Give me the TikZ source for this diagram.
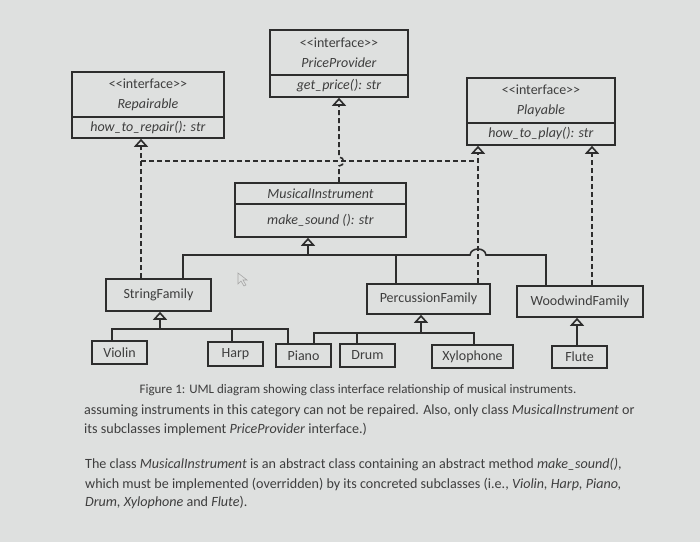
\documentclass[tikz,border=0pt]{standalone}
\usepackage{fontspec}
\setmainfont{Carlito}
\usetikzlibrary{arrows.meta}
\definecolor{bg}{RGB}{222,224,223}
\definecolor{ink}{RGB}{45,45,45}
\definecolor{txt}{RGB}{62,62,62}
\begin{document}
\begin{tikzpicture}[x=1pt,y=-1pt,
  box/.style={draw=ink, line width=1.6pt, fill=bg, inner sep=0pt, text=txt, font=\fontsize{14}{20}\selectfont, align=center},
  gen/.style={draw=ink, line width=1.6pt, -{Triangle[open,length=8pt,width=14pt,fill=bg]}},
  impl/.style={gen, dash pattern=on 5pt off 3pt},
  conn/.style={draw=ink, line width=1.6pt},
  dconn/.style={conn, dash pattern=on 5pt off 3pt},
  para/.style={text=txt, anchor=west, inner sep=0pt, font=\fontsize{14.1}{16}\selectfont},
]
\fill[bg] (0,0) rectangle (700,542);
\useasboundingbox (0,0) rectangle (700,542);

% interfaces
\node[box, minimum width=138pt, minimum height=45pt] (pp) at (339,52.5) {<\kern0pt<interface>\kern0pt>\\\textit{PriceProvider}};
\node[box, minimum width=138pt, minimum height=22pt] (ppm) at (339,86) {\textit{get\_price(): str}};
\node[box, minimum width=152pt, minimum height=45pt] (rp) at (148,94.5) {<\kern0pt<interface>\kern0pt>\\\textit{Repairable}};
\node[box, minimum width=152pt, minimum height=21pt] (rm) at (148,127.5) {\textit{how\_to\_repair(): str}};
\node[box, minimum width=148pt, minimum height=45pt] (pl) at (541,100.5) {<\kern0pt<interface>\kern0pt>\\\textit{Playable}};
\node[box, minimum width=148pt, minimum height=22pt] (plm) at (541,134) {\textit{how\_to\_play(): str}};
% abstract class
\node[box, minimum width=171pt, minimum height=21pt] (mi) at (320.5,193.5) {\textit{MusicalInstrument}};
\node[box, minimum width=171pt, minimum height=33pt] (mim) at (320.5,220.5) {\textit{make\_sound (): str}};
% families
\node[box, minimum width=105pt, minimum height=32pt] (sf) at (158.5,295) {StringFamily};
\node[box, minimum width=123pt, minimum height=30pt] (pf) at (428.5,299) {PercussionFamily};
\node[box, minimum width=126pt, minimum height=31pt] (wf) at (580,301.5) {WoodwindFamily};
% concrete
\node[box, minimum width=55pt, minimum height=23pt] (vi) at (119.5,352.5) {Violin};
\node[box, minimum width=55pt, minimum height=24pt] (ha) at (235.5,354) {Harp};
\node[box, minimum width=55pt, minimum height=23pt] (pi) at (303.5,355.5) {Piano};
\node[box, minimum width=55pt, minimum height=23pt] (dr) at (367.5,355.5) {Drum};
\node[box, minimum width=81pt, minimum height=23pt] (xy) at (472.5,356.5) {Xylophone};
\node[box, minimum width=55pt, minimum height=22pt] (fl) at (579.5,357) {Flute};

% helper coordinates
\coordinate (ra) at (141,0);
\coordinate (pa) at (478,0);
\coordinate (wa) at (592,0);
\coordinate (hy) at (0,161);
\coordinate (b1) at (0,255);
\coordinate (tx) at (308,0);
\coordinate (sx) at (183,0);
\coordinate (px) at (396,0);
\coordinate (wx) at (546,0);
\coordinate (b2) at (0,329);
\coordinate (stx) at (160,0);
\coordinate (vx) at (112,0);
\coordinate (hx) at (232,0);
\coordinate (pix) at (288,0);
\coordinate (b3) at (0,333);
\coordinate (ptx) at (421,0);
\coordinate (pjx) at (314,0);
\coordinate (dx) at (357,0);
\coordinate (xx) at (474,0);

% realizations (dashed)
\draw[impl] (mi.north -| ppm.south) -- (339,166) .. controls (345,166) and (345,157) .. (339,157) -- (ppm.south);
\draw[impl] (sf.north -| ra) -- (rm.south -| ra);
\draw[dconn] (ra |- hy) -- (pa |- hy);
\draw[impl] (pf.north -| pa) -- (plm.south -| pa);
\draw[impl] (wf.north -| wa) -- (plm.south -| wa);

% generalization to MusicalInstrument
\draw[gen] (tx |- b1) -- (mim.south -| tx);
\draw[conn] (sf.north -| sx) -- (sx |- b1) -- (470,255) .. controls (471,247) and (485,247) .. (486,255) -- (wx |- b1) -- (wf.north -| wx);
\draw[conn] (pf.north -| px) -- (px |- b1);

% string family
\draw[gen] (stx |- b2) -- (sf.south -| stx);
\draw[conn] (vi.north -| vx) -- (vx |- b2) -- (pix |- b2) -- (pi.north -| pix);
\draw[conn] (ha.north -| hx) -- (hx |- b2);

% percussion family
\draw[gen] (ptx |- b3) -- (pf.south -| ptx);
\draw[conn] (pi.north -| pjx) -- (pjx |- b3) -- (xx |- b3) -- (xy.north -| xx);
\draw[conn] (dr.north -| dx) -- (dx |- b3);

% woodwind family
\draw[gen] (fl.north -| 577,0) -- (wf.south -| 577,0);

% mouse cursor
\draw[gray!70, line width=0.6pt, fill=bg] (238,273) -- (238,284) -- (241,281) -- (244,286) -- (246,285) -- (243,280) -- (247,280) -- cycle;

% text
\node[para, anchor=center, font=\fontsize{13}{15}\selectfont] (cap) at (358,390) {Figure 1: UML diagram showing class interface relationship of musical instruments.};
\node[para] (l1) at (84,411) {assuming instruments in this category can not be repaired. Also, only class \textit{MusicalInstrument} or};
\node[para] (l2) at (84,429) {its subclasses implement \textit{PriceProvider} interface.)};
\node[para] (l3) at (85,465) {The class \textit{MusicalInstrument} is an abstract class containing an abstract method \textit{make\_sound()},};
\node[para] (l4) at (85,484) {which must be implemented (overridden) by its concreted subclasses (i.e., \textit{Violin, Harp, Piano,}};
\node[para] (l5) at (85,502) {\textit{Drum, Xylophone} and \textit{Flute}).};
\end{tikzpicture}
\end{document}
